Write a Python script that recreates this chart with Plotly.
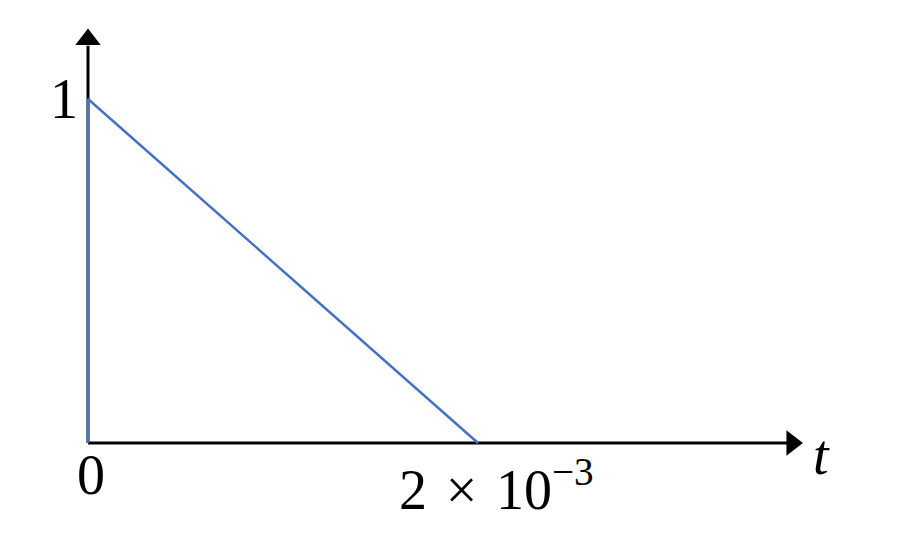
import plotly.graph_objects as go

# data
t_vals = [0.0, 0.0, 0.002]
y_vals = [0.0, 1.0, 0.0]
x_tick_vals = [0.0, 0.002]
x_tick_text = ["0", "2\u2004×\u2004" + "10<sup>−3</sup>"]
y_tick_vals = [1.0]
y_tick_text = ["1"]
x_axis_end = 0.00367
y_axis_end = 1.205

W, H = 906, 534
OFF = 8  # page body margin
# pixel mapping (page px): t=0 -> 88px, t=0.002 -> 478px ; y=0 -> 443px, y=1 -> 99px
x0 = 88 - OFF
y0 = 443 - OFF
px_per_t = (478 - 88) / 0.002
px_per_y = (443 - 99) / 1.0
x_range = [-x0 / px_per_t, (W - x0) / px_per_t]
y_range = [-(H - y0) / px_per_y, y0 / px_per_y]

fig = go.Figure()

# axes lines (black)
fig.add_trace(go.Scatter(x=[0, x_axis_end - 0.00008], y=[0, 0], mode="lines",
                         line=dict(color="black", width=3), hoverinfo="skip"))
fig.add_trace(go.Scatter(x=[0, 0], y=[0, y_axis_end - 0.05], mode="lines",
                         line=dict(color="black", width=3), hoverinfo="skip"))
# arrow heads
fig.add_trace(go.Scatter(x=[x_axis_end - 0.00006], y=[0], mode="markers",
                         marker=dict(symbol="triangle-right", size=22, color="black"),
                         hoverinfo="skip"))
fig.add_trace(go.Scatter(x=[0], y=[y_axis_end - 0.032], mode="markers",
                         marker=dict(symbol="triangle-up", size=22, color="black"),
                         hoverinfo="skip"))

# blue signal
fig.add_trace(go.Scatter(x=t_vals, y=y_vals, mode="lines",
                         line=dict(color="#4472C4", width=2.5), hoverinfo="skip"))

font = dict(family="Liberation Serif", size=56, color="black")
annotations = []
# x tick labels
annotations.append(dict(x=x_tick_vals[0], y=0, xref="x", yref="y", text=x_tick_text[0],
                        showarrow=False, font=font, xanchor="center", yanchor="middle",
                        xshift=3, yshift=-32))
annotations.append(dict(x=x_tick_vals[1], y=0, xref="x", yref="y", text=x_tick_text[1],
                        showarrow=False, font=font, xanchor="center", yanchor="middle",
                        xshift=18, yshift=-42))
# y tick label
annotations.append(dict(x=0, y=y_tick_vals[0], xref="x", yref="y", text=y_tick_text[0],
                        showarrow=False, font=font, xanchor="center", yanchor="middle",
                        xshift=-24, yshift=0))
# axis label t
annotations.append(dict(x=x_axis_end, y=0, xref="x", yref="y", text="<i>t</i>",
                        showarrow=False, font=font, xanchor="center", yanchor="middle",
                        xshift=18, yshift=-12))

fig.update_layout(
    width=W, height=H,
    margin=dict(l=0, r=0, t=0, b=0),
    paper_bgcolor="white", plot_bgcolor="white",
    showlegend=False,
    annotations=annotations,
    xaxis=dict(range=x_range, visible=False, fixedrange=True),
    yaxis=dict(range=y_range, visible=False, fixedrange=True),
)

fig.write_html("out.html")
